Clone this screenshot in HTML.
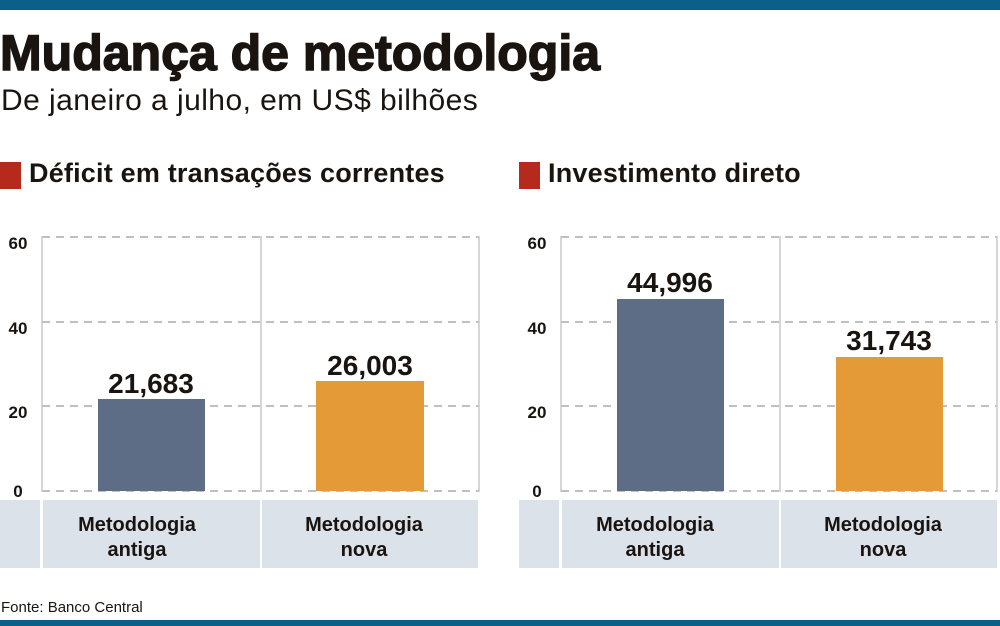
<!DOCTYPE html>
<html><head><meta charset="utf-8"><style>
body{margin:0;width:1000px;height:626px;background:#fff;position:relative;overflow:hidden;font-family:"Liberation Sans",sans-serif;color:#1a1410}
div{position:absolute}
.t{font-weight:bold}
</style></head><body>
<div style="left:0;top:0;width:1000px;height:10px;background:#0b6089"></div>
<div style="left:0;top:620px;width:1000px;height:6px;background:#0b6089"></div>
<div class="t" style="left:0;top:24px;font-size:50px;letter-spacing:0px;white-space:nowrap;-webkit-text-stroke:1.5px #1a1410">Mudança de metodologia</div>
<div style="left:1px;top:84px;font-size:30px;white-space:nowrap;letter-spacing:0.45px">De janeiro a julho, em US$ bilhões</div>
<div style="left:0;top:162px;width:21px;height:27px;background:#b52a1c"></div>
<div class="t" style="left:29px;top:158px;font-size:27px;white-space:nowrap;letter-spacing:0.2px">Déficit em transações correntes</div>
<div style="left:519px;top:162px;width:21px;height:27px;background:#b52a1c"></div>
<div class="t" style="left:548px;top:158px;font-size:27px;white-space:nowrap;letter-spacing:0.2px">Investimento direto</div>
<svg width="1000" height="626" style="position:absolute;left:0;top:0" font-family="Liberation Sans" font-weight="bold">
<g stroke="#aaa" stroke-dasharray="8,6" stroke-width="1.5">
<line x1="42" x2="479" y1="237" y2="237"/><line x1="42" x2="479" y1="322" y2="322"/><line x1="42" x2="479" y1="406" y2="406"/><line x1="42" x2="479" y1="491" y2="491"/>
<line x1="561" x2="997" y1="237" y2="237"/><line x1="561" x2="997" y1="322" y2="322"/><line x1="561" x2="997" y1="406" y2="406"/><line x1="561" x2="997" y1="491" y2="491"/>
</g>
<g stroke="#c8c8c8" stroke-width="1.5">
<line x1="42" x2="42" y1="236" y2="492"/><line x1="261" x2="261" y1="236" y2="492"/><line x1="479" x2="479" y1="236" y2="492"/>
<line x1="561" x2="561" y1="236" y2="492"/><line x1="780" x2="780" y1="236" y2="492"/><line x1="997" x2="997" y1="236" y2="492"/>
</g>
<g fill="#dbe2ea">
<rect x="0" y="500" width="40" height="68"/><rect x="43" y="500" width="217" height="68"/><rect x="262" y="500" width="216" height="68"/>
<rect x="519" y="500" width="40" height="68"/><rect x="562" y="500" width="217" height="68"/><rect x="781" y="500" width="216" height="68"/>
</g>
<rect x="98" y="399" width="107" height="92" fill="#5d6d85"/>
<rect x="316" y="381" width="108" height="110" fill="#e59a38"/>
<rect x="617" y="299" width="107" height="192" fill="#5d6d85"/>
<rect x="836" y="357" width="107" height="134" fill="#e59a38"/>
<g font-size="17" fill="#1a1410" text-anchor="middle">
<text x="18" y="249">60</text><text x="18" y="334">40</text><text x="18" y="418">20</text><text x="18" y="497">0</text>
<text x="537" y="249">60</text><text x="537" y="334">40</text><text x="537" y="418">20</text><text x="537" y="497">0</text>
</g>
<g font-size="28" fill="#1a1410" text-anchor="middle">
<text x="151" y="393">21,683</text><text x="370" y="375">26,003</text>
<text x="670" y="292">44,996</text><text x="889" y="350">31,743</text>
</g>
<g font-size="20" fill="#1a1410" text-anchor="middle">
<text x="137" y="531">Metodologia</text><text x="137" y="556">antiga</text>
<text x="364" y="531">Metodologia</text><text x="364" y="556">nova</text>
<text x="655" y="531">Metodologia</text><text x="655" y="556">antiga</text>
<text x="883" y="531">Metodologia</text><text x="883" y="556">nova</text>
</g>
<text x="1" y="612" font-size="15" font-weight="normal" fill="#1a1410">Fonte: Banco Central</text>
</svg>
</body></html>
